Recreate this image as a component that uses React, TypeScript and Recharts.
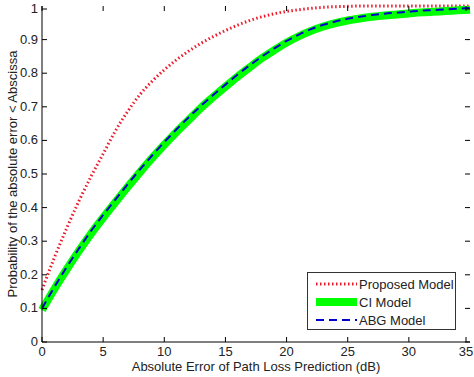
import { LineChart, Line, XAxis, YAxis } from 'recharts';

// x: absolute error (dB), read at each whole dB
const errorDb = Array.from({ length: 36 }, (_, i) => i);

const proposedModel = [
  0.155, 0.25, 0.337, 0.418, 0.492, 0.56, 0.628, 0.686, 0.736, 0.776,
  0.81, 0.84, 0.866, 0.889, 0.909, 0.927, 0.943, 0.957, 0.968, 0.977,
  0.984, 0.989, 0.993, 0.996, 0.998, 0.999, 1.0, 1.0, 1.0, 1.0,
  1.0, 1.0, 1.0, 1.0, 1.0, 1.0,
];

const ciModel = [
  0.095, 0.157, 0.215, 0.27, 0.322, 0.37, 0.416, 0.461, 0.505, 0.547,
  0.587, 0.625, 0.661, 0.697, 0.729, 0.76, 0.79, 0.818, 0.845, 0.869,
  0.891, 0.91, 0.926, 0.939, 0.949, 0.957, 0.963, 0.968, 0.972, 0.975,
  0.978, 0.981, 0.983, 0.985, 0.987, 0.989,
];

const abgModel = [
  0.1, 0.163, 0.222, 0.277, 0.33, 0.378, 0.424, 0.469, 0.513, 0.555,
  0.595, 0.633, 0.669, 0.703, 0.735, 0.766, 0.796, 0.824, 0.85, 0.874,
  0.896, 0.915, 0.931, 0.944, 0.954, 0.962, 0.968, 0.973, 0.977, 0.98,
  0.983, 0.986, 0.988, 0.99, 0.992, 0.994,
];

const xTicks = [0, 5, 10, 15, 20, 25, 30, 35];
const yTicks = [0, 0.1, 0.2, 0.3, 0.4, 0.5, 0.6, 0.7, 0.8, 0.9, 1];

const data = errorDb.map((x, i) => ({
  x,
  proposed: proposedModel[i],
  ci: ciModel[i],
  abg: abgModel[i],
}));

const W = 474;
const H = 377;
const PLOT = { left: 42, right: 470, top: 6, bottom: 342 };
const FONT = '"Liberation Sans", Arial, sans-serif';
const TEXT = '#222';

// MATLAB-style ticks: drawn inward on both bottom and top edges
function XTick({ x, payload }: any) {
  return (
    <g>
      <line x1={x} x2={x} y1={PLOT.bottom} y2={PLOT.bottom - 5} stroke="#000" />
      <line x1={x} x2={x} y1={PLOT.top} y2={PLOT.top + 5} stroke="#000" />
      <text x={x} y={PLOT.bottom + 14} textAnchor="middle" fontSize={13} fill={TEXT} fontFamily={FONT}>
        {payload.value}
      </text>
    </g>
  );
}

function YTick({ y, payload }: any) {
  return (
    <g>
      <line x1={PLOT.left} x2={PLOT.left + 5} y1={y} y2={y} stroke="#000" />
      <line x1={PLOT.right} x2={PLOT.right - 5} y1={y} y2={y} stroke="#000" />
      <text x={PLOT.left - 4} y={y + 4} textAnchor="end" fontSize={13} fill={TEXT} fontFamily={FONT}>
        {payload.value}
      </text>
    </g>
  );
}

const legendItems = [
  { label: 'Proposed Model', color: '#ee1828', width: 3, dash: '1.5 2.5' },
  { label: 'CI Model', color: '#00ff00', width: 8, dash: undefined },
  { label: 'ABG Model', color: '#0000cc', width: 2, dash: '8 5' },
];

function LegendBox() {
  return (
    <div
      style={{
        position: 'absolute',
        left: 307,
        top: 272,
        width: 149,
        height: 58,
        border: '1px solid #333',
        background: '#fff',
        boxSizing: 'border-box',
        paddingTop: 2,
      }}
    >
      {legendItems.map((item) => (
        <div key={item.label} style={{ display: 'flex', alignItems: 'center', height: 18 }}>
          <svg width={42} height={12} style={{ marginLeft: 8, flexShrink: 0 }}>
            <line
              x1={0}
              x2={41}
              y1={6}
              y2={6}
              stroke={item.color}
              strokeWidth={item.width}
              strokeDasharray={item.dash}
            />
          </svg>
          <span style={{ fontSize: 13, fontFamily: FONT, color: TEXT, marginLeft: 1, whiteSpace: 'nowrap' }}>
            {item.label}
          </span>
        </div>
      ))}
    </div>
  );
}

export default function App() {
  return (
    <div style={{ position: 'absolute', left: 0, top: 0, width: W, height: H, background: '#fff' }}>
      <LineChart
        width={W}
        height={H}
        data={data}
        margin={{ top: PLOT.top, right: W - PLOT.right, left: 0, bottom: 0 }}
      >
        <XAxis
          dataKey="x"
          type="number"
          domain={[0, 35]}
          ticks={xTicks}
          height={H - PLOT.bottom}
          tickLine={false}
          tick={<XTick />}
          stroke="#000"
        />
        <XAxis
          xAxisId="top"
          dataKey="x"
          type="number"
          domain={[0, 35]}
          orientation="top"
          height={0}
          tick={false}
          tickLine={false}
          stroke="#000"
        />
        <YAxis
          type="number"
          domain={[0, 1]}
          ticks={yTicks}
          width={PLOT.left}
          tickLine={false}
          tick={<YTick />}
          stroke="#000"
        />
        <YAxis
          yAxisId="right"
          orientation="right"
          domain={[0, 1]}
          width={0}
          tick={false}
          tickLine={false}
          stroke="#000"
        />
        <Line
          type="monotone"
          dataKey="proposed"
          stroke="#ee1828"
          strokeWidth={3}
          strokeDasharray="1.5 2.5"
          dot={false}
          isAnimationActive={false}
        />
        <Line
          type="monotone"
          dataKey="ci"
          stroke="#00ff00"
          strokeWidth={8}
          dot={false}
          isAnimationActive={false}
        />
        <Line
          type="monotone"
          dataKey="abg"
          stroke="#0000cc"
          strokeWidth={2}
          strokeDasharray="8 5"
          dot={false}
          isAnimationActive={false}
        />
        <text x={256} y={371} textAnchor="middle" fontSize={13} fill={TEXT} fontFamily={FONT}>
          Absolute Error of Path Loss Prediction (dB)
        </text>
        <text
          x={17}
          y={174}
          textAnchor="middle"
          fontSize={13}
          fill={TEXT}
          fontFamily={FONT}
          transform="rotate(-90 17 174)"
        >
          Probability of the absolute error &lt; Abscissa
        </text>
      </LineChart>
      <LegendBox />
    </div>
  );
}
